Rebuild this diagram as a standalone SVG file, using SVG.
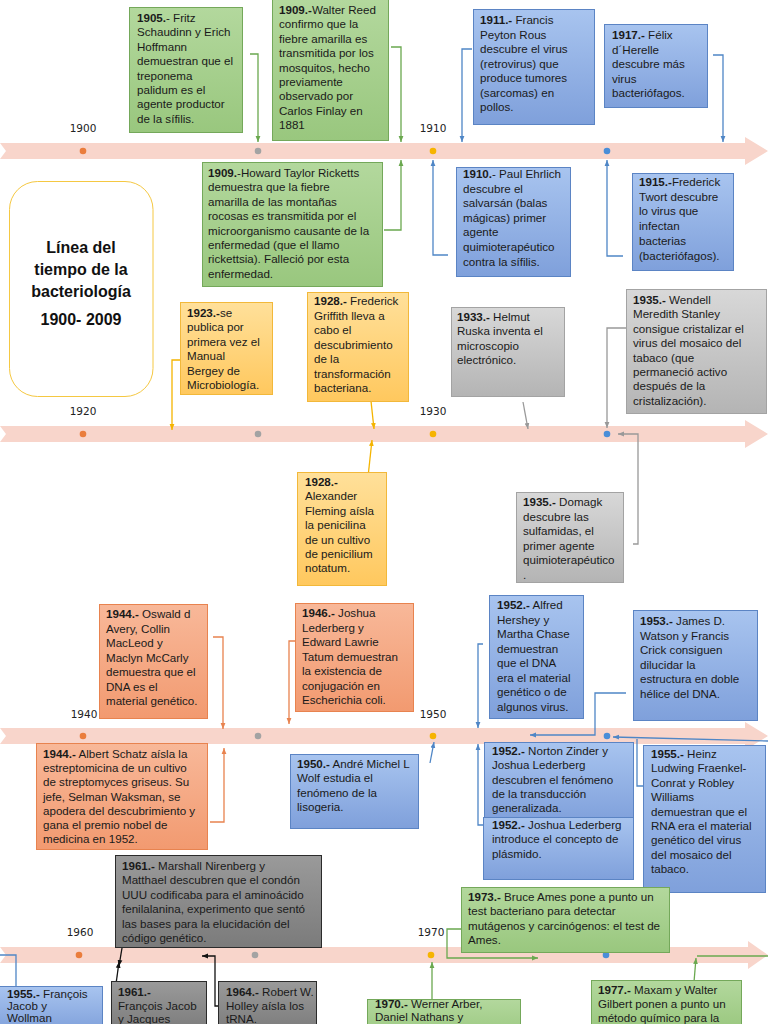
<svg xmlns="http://www.w3.org/2000/svg" width="768" height="1024" viewBox="0 0 768 1024">
<defs>
<style>
.t{font-family:"Liberation Sans",Arial,sans-serif;font-size:11.6px;fill:#1a1a1a}
.b{font-weight:bold}
.yr{font-family:"DejaVu Sans",sans-serif;font-size:10.5px;fill:#222;text-anchor:middle}
.band{fill:#f8d5cb}
.gr{fill:url(#gG);stroke:#74a85a;stroke-width:1}
.bl{fill:url(#gB);stroke:#5b84c4;stroke-width:1}
.ye{fill:url(#gY);stroke:#f2b83a;stroke-width:1}
.or{fill:url(#gO);stroke:#e8834f;stroke-width:1}
.gy{fill:url(#gGy);stroke:#a3a3a3;stroke-width:1}
.dk{fill:url(#gD);stroke:#2b2b2b;stroke-width:1}
.c{fill:none;stroke-width:1.3}
.cg{stroke:#6aa84f}.cb{stroke:#4f86c6}.cy{stroke:#f4b400}.co{stroke:#e8834f}.cgy{stroke:#999}.ck{stroke:#111}
</style>
<linearGradient id="gG" x1="0" y1="0" x2="0" y2="1"><stop offset="0" stop-color="#b3d89d"/><stop offset="1" stop-color="#99c77e"/></linearGradient>
<linearGradient id="gB" x1="0" y1="0" x2="0" y2="1"><stop offset="0" stop-color="#a8c4ef"/><stop offset="1" stop-color="#7fa0db"/></linearGradient>
<linearGradient id="gY" x1="0" y1="0" x2="0" y2="1"><stop offset="0" stop-color="#ffe09a"/><stop offset="1" stop-color="#ffc85e"/></linearGradient>
<linearGradient id="gO" x1="0" y1="0" x2="0" y2="1"><stop offset="0" stop-color="#f8b899"/><stop offset="1" stop-color="#f29a70"/></linearGradient>
<linearGradient id="gGy" x1="0" y1="0" x2="0" y2="1"><stop offset="0" stop-color="#d8d8d8"/><stop offset="1" stop-color="#b4b4b4"/></linearGradient>
<linearGradient id="gD" x1="0" y1="0" x2="0" y2="1"><stop offset="0" stop-color="#9a9a9a"/><stop offset="1" stop-color="#7b7b7b"/></linearGradient>
<marker id="mg" viewBox="0 0 10 10" refX="10" refY="5" markerWidth="6" markerHeight="6" orient="auto" markerUnits="userSpaceOnUse"><path d="M0,1 L10,5 L0,9 z" fill="#6aa84f"/></marker>
<marker id="mb" viewBox="0 0 10 10" refX="10" refY="5" markerWidth="6" markerHeight="6" orient="auto" markerUnits="userSpaceOnUse"><path d="M0,1 L10,5 L0,9 z" fill="#4f86c6"/></marker>
<marker id="my" viewBox="0 0 10 10" refX="10" refY="5" markerWidth="6" markerHeight="6" orient="auto" markerUnits="userSpaceOnUse"><path d="M0,1 L10,5 L0,9 z" fill="#f4b400"/></marker>
<marker id="mo" viewBox="0 0 10 10" refX="10" refY="5" markerWidth="6" markerHeight="6" orient="auto" markerUnits="userSpaceOnUse"><path d="M0,1 L10,5 L0,9 z" fill="#e8834f"/></marker>
<marker id="mgy" viewBox="0 0 10 10" refX="10" refY="5" markerWidth="6" markerHeight="6" orient="auto" markerUnits="userSpaceOnUse"><path d="M0,1 L10,5 L0,9 z" fill="#999"/></marker>
<marker id="mk" viewBox="0 0 10 10" refX="10" refY="5" markerWidth="6" markerHeight="6" orient="auto" markerUnits="userSpaceOnUse"><path d="M0,1 L10,5 L0,9 z" fill="#111"/></marker>
</defs>
<rect width="768" height="1024" fill="#fff"/>

<g id="timeline">
<polygon class="band" points="0,143 745,143 745,137 768,151 745,165 745,159 0,159 6,151"/>
<polygon class="band" points="0,426 745,426 745,420 768,434 745,448 745,442 0,442 6,434"/>
<polygon class="band" points="0,728 745,728 745,722 768,736 745,750 745,744 0,744 6,736"/>
<polygon class="band" points="0,947 748,947 748,941 768,955 748,969 748,963 0,963 6,955"/>
<g>
<circle cx="83" cy="151" r="3.3" fill="#ea7d3c"/><circle cx="258" cy="151" r="3.3" fill="#a3a3a3"/><circle cx="433" cy="151" r="3.3" fill="#f6b400"/><circle cx="607" cy="151" r="3.3" fill="#4a8ed8"/>
<circle cx="83" cy="434" r="3.3" fill="#ea7d3c"/><circle cx="258" cy="434" r="3.3" fill="#a3a3a3"/><circle cx="433" cy="434" r="3.3" fill="#f6b400"/><circle cx="607" cy="434" r="3.3" fill="#4a8ed8"/>
<circle cx="83" cy="736" r="3.3" fill="#ea7d3c"/><circle cx="258" cy="736" r="3.3" fill="#a3a3a3"/><circle cx="433" cy="736" r="3.3" fill="#f6b400"/><circle cx="607" cy="736" r="3.3" fill="#4a8ed8"/>
<circle cx="79" cy="955" r="3.3" fill="#ea7d3c"/><circle cx="255" cy="955" r="3.3" fill="#a3a3a3"/><circle cx="431" cy="955" r="3.3" fill="#f6b400"/><circle cx="606" cy="955" r="3.3" fill="#4a8ed8"/>
</g>
<text class="yr" x="83" y="132">1900</text>
<text class="yr" x="433" y="132">1910</text>
<text class="yr" x="83" y="415">1920</text>
<text class="yr" x="433" y="415">1930</text>
<text class="yr" x="84" y="718">1940</text>
<text class="yr" x="433" y="718">1950</text>
<text class="yr" x="80" y="936">1960</text>
<text class="yr" x="431" y="936">1970</text>
</g>

<g id="title">
<rect x="9.5" y="181.5" width="143.5" height="215" rx="28" fill="#fff" stroke="#f5c842" stroke-width="1"/>
<text font-family="Liberation Sans,Arial,sans-serif" font-size="16" font-weight="bold" fill="#111" text-anchor="middle">
<tspan x="81" y="253">Línea del</tspan><tspan x="81" y="275">tiempo de la</tspan><tspan x="81" y="297">bacteriología</tspan><tspan x="81" y="325">1900- 2009</tspan>
</text>
</g>

<g id="connectors">
<path class="c cg" d="M250,54 H258 V142" marker-end="url(#mg)"/>
<path class="c cg" d="M391,47 H401 V142" marker-end="url(#mg)"/>
<path class="c cg" d="M384,230 H401 V160" marker-end="url(#mg)"/>
<path class="c cb" d="M472,49 H462 V142" marker-end="url(#mb)"/>
<path class="c cb" d="M713,55 H723 V142" marker-end="url(#mb)"/>
<path class="c cb" d="M448,255 H433 V160" marker-end="url(#mb)"/>
<path class="c cb" d="M623,256 H607 V160" marker-end="url(#mb)"/>
<path class="c cy" d="M180,360 H172 V430" marker-end="url(#my)"/>
<path class="c cy" d="M371,401 L374,429" marker-end="url(#my)"/>
<path class="c cy" d="M368,477 L372,440" marker-end="url(#my)"/>
<path class="c cgy" d="M523,402 L528,429" marker-end="url(#mgy)"/>
<path class="c cgy" d="M626,328 H607 V428" marker-end="url(#mgy)"/>
<path class="c cgy" d="M633,544 H638 V434 H618" marker-end="url(#mgy)"/>
<path class="c co" d="M213,637 H223 V729" marker-end="url(#mo)"/>
<path class="c co" d="M295,641 H289 V724" marker-end="url(#mo)"/>
<path class="c co" d="M210,822 H224 V748" marker-end="url(#mo)"/>
<path class="c cb" d="M430,763 L434,742" marker-end="url(#mb)"/>
<path class="c cb" d="M483,644 H478 V728" marker-end="url(#mb)"/>
<path class="c cb" d="M626,693 H595 V735 H530" marker-end="url(#mb)"/>
<path class="c cb" d="M483,825 H478 V744" marker-end="url(#mb)"/>
<path class="c cb" d="M643,786 H637 V739"/>
<path class="c cb" d="M768,741 L613,737" marker-end="url(#mb)"/>
<path class="c cb" d="M16,987 V955 H0"/>
<path class="c ck" d="M122,948 L119,966" marker-end="url(#mk)"/>
<path class="c ck" d="M116,984 L119,962" marker-end="url(#mk)"/>
<path class="c ck" d="M218,1006 H215 V956 H202" marker-end="url(#mk)"/>
<path class="c cg" d="M461,929 H447 V958 H538" marker-end="url(#mg)"/>
<path class="c cg" d="M432,999 V962" marker-end="url(#mg)"/>
<path class="c cg" d="M694,982 L696,958" marker-end="url(#mg)"/>
<path class="c cg" d="M697,956 H768"/>
</g>

<g id="n1905"><rect class="gr" x="129.5" y="7.5" width="113" height="125"/>
<text class="t"><tspan x="137" y="22"><tspan class="b">1905.</tspan>- Fritz</tspan><tspan x="137" dy="14.4">Schaudinn y Erich</tspan><tspan x="137" dy="14.4">Hoffmann</tspan><tspan x="137" dy="14.4">demuestran que el</tspan><tspan x="137" dy="14.4">treponema</tspan><tspan x="137" dy="14.4">palidum es el</tspan><tspan x="137" dy="14.4">agente productor</tspan><tspan x="137" dy="14.4">de la sífilis.</tspan></text></g>

<g id="n1909a"><rect class="gr" x="272.5" y="-0.5" width="116" height="141"/>
<text class="t"><tspan x="279" y="14"><tspan class="b">1909.-</tspan>Walter Reed</tspan><tspan x="279" dy="14.4">confirmo que la</tspan><tspan x="279" dy="14.4">fiebre amarilla es</tspan><tspan x="279" dy="14.4">transmitida por los</tspan><tspan x="279" dy="14.4">mosquitos, hecho</tspan><tspan x="279" dy="14.4">previamente</tspan><tspan x="279" dy="14.4">observado por</tspan><tspan x="279" dy="14.4">Carlos Finlay en</tspan><tspan x="279" dy="14.4">1881</tspan></text></g>

<g id="n1909b"><rect class="gr" x="202.5" y="162.5" width="180" height="124"/>
<text class="t"><tspan x="208" y="177"><tspan class="b">1909.</tspan>-Howard Taylor Ricketts</tspan><tspan x="208" dy="14.4">demuestra que la fiebre</tspan><tspan x="208" dy="14.4">amarilla de las montañas</tspan><tspan x="208" dy="14.4">rocosas es transmitida por el</tspan><tspan x="208" dy="14.4">microorganismo causante de la</tspan><tspan x="208" dy="14.4">enfermedad (que el llamo</tspan><tspan x="208" dy="14.4">rickettsia). Falleció por esta</tspan><tspan x="208" dy="14.4">enfermedad.</tspan></text></g>

<g id="n1911"><rect class="bl" x="473.5" y="9.5" width="121" height="115"/>
<text class="t"><tspan x="480" y="24"><tspan class="b">1911.-</tspan> Francis</tspan><tspan x="480" dy="14.5">Peyton Rous</tspan><tspan x="480" dy="14.5">descubre el virus</tspan><tspan x="480" dy="14.5">(retrovirus) que</tspan><tspan x="480" dy="14.5">produce tumores</tspan><tspan x="480" dy="14.5">(sarcomas) en</tspan><tspan x="480" dy="14.5">pollos.</tspan></text></g>

<g id="n1917"><rect class="bl" x="604.5" y="24.5" width="103" height="83"/>
<text class="t"><tspan x="612" y="39"><tspan class="b">1917.-</tspan> Félix</tspan><tspan x="612" dy="14.5">d´Herelle</tspan><tspan x="612" dy="14.5">descubre más</tspan><tspan x="612" dy="14.5">virus</tspan><tspan x="612" dy="14.5">bacteriófagos.</tspan></text></g>

<g id="n1910"><rect class="bl" x="456.5" y="167.5" width="114" height="109"/>
<text class="t"><tspan x="463" y="178"><tspan class="b">1910.</tspan>- Paul Ehrlich</tspan><tspan x="463" dy="14.6">descubre el</tspan><tspan x="463" dy="14.6">salvarsán (balas</tspan><tspan x="463" dy="14.6">mágicas) primer</tspan><tspan x="463" dy="14.6">agente</tspan><tspan x="463" dy="14.6">quimioterapéutico</tspan><tspan x="463" dy="14.6">contra la sífilis.</tspan></text></g>

<g id="n1915"><rect class="bl" x="632.5" y="173.5" width="101" height="97"/>
<text class="t"><tspan x="639" y="186"><tspan class="b">1915.-</tspan>Frederick</tspan><tspan x="639" dy="14.7">Twort descubre</tspan><tspan x="639" dy="14.7">lo virus que</tspan><tspan x="639" dy="14.7">infectan</tspan><tspan x="639" dy="14.7">bacterias</tspan><tspan x="639" dy="14.7">(bacteriófagos).</tspan></text></g>

<g id="n1923"><rect class="ye" x="180.5" y="302.5" width="92" height="92"/>
<text class="t"><tspan x="187" y="317"><tspan class="b">1923.-</tspan>se</tspan><tspan x="187" dy="14.4">publica por</tspan><tspan x="187" dy="14.4">primera vez el</tspan><tspan x="187" dy="14.4">Manual</tspan><tspan x="187" dy="14.4">Bergey de</tspan><tspan x="187" dy="14.4">Microbiología.</tspan></text></g>

<g id="n1928a"><rect class="ye" x="307.5" y="292.5" width="101" height="109"/>
<text class="t"><tspan x="314" y="305"><tspan class="b">1928.-</tspan> Frederick</tspan><tspan x="314" dy="14.5">Griffith lleva a</tspan><tspan x="314" dy="14.5">cabo el</tspan><tspan x="314" dy="14.5">descubrimiento</tspan><tspan x="314" dy="14.5">de la</tspan><tspan x="314" dy="14.5">transformación</tspan><tspan x="314" dy="14.5">bacteriana.</tspan></text></g>

<g id="n1928b"><rect class="ye" x="297.5" y="472.5" width="89" height="113"/>
<text class="t"><tspan x="305" y="486" class="b">1928.-</tspan><tspan x="305" dy="14.4">Alexander</tspan><tspan x="305" dy="14.4">Fleming aísla</tspan><tspan x="305" dy="14.4">la penicilina</tspan><tspan x="305" dy="14.4">de un cultivo</tspan><tspan x="305" dy="14.4">de penicilium</tspan><tspan x="305" dy="14.4">notatum.</tspan></text></g>

<g id="n1933"><rect class="gy" x="451.5" y="307.5" width="113" height="89"/>
<text class="t"><tspan x="457" y="321"><tspan class="b">1933.-</tspan> Helmut</tspan><tspan x="457" dy="14.4">Ruska inventa el</tspan><tspan x="457" dy="14.4">microscopio</tspan><tspan x="457" dy="14.4">electrónico.</tspan></text></g>

<g id="n1935a"><rect class="gy" x="626.5" y="289.5" width="140" height="124"/>
<text class="t"><tspan x="633" y="304"><tspan class="b">1935.-</tspan> Wendell</tspan><tspan x="633" dy="14.4">Meredith Stanley</tspan><tspan x="633" dy="14.4">consigue cristalizar el</tspan><tspan x="633" dy="14.4">virus del mosaico del</tspan><tspan x="633" dy="14.4">tabaco (que</tspan><tspan x="633" dy="14.4">permaneció activo</tspan><tspan x="633" dy="14.4">después de la</tspan><tspan x="633" dy="14.4">cristalización).</tspan></text></g>

<g id="n1935b"><rect class="gy" x="516.5" y="492.5" width="107" height="90"/>
<text class="t"><tspan x="523" y="506"><tspan class="b">1935.-</tspan> Domagk</tspan><tspan x="523" dy="14.6">descubre las</tspan><tspan x="523" dy="14.6">sulfamidas, el</tspan><tspan x="523" dy="14.6">primer agente</tspan><tspan x="523" dy="14.6">quimioterapéutico</tspan><tspan x="523" dy="14.6">.</tspan></text></g>

<g id="n1944a"><rect class="or" x="99.5" y="604.5" width="108" height="114"/>
<text class="t"><tspan x="106" y="618"><tspan class="b">1944.-</tspan> Oswald d</tspan><tspan x="106" dy="14.5">Avery, Collin</tspan><tspan x="106" dy="14.5">MacLeod y</tspan><tspan x="106" dy="14.5">Maclyn McCarly</tspan><tspan x="106" dy="14.5">demuestra que el</tspan><tspan x="106" dy="14.5">DNA es el</tspan><tspan x="106" dy="14.5">material genético.</tspan></text></g>

<g id="n1946"><rect class="or" x="295.5" y="603.5" width="118" height="108"/>
<text class="t"><tspan x="302" y="617"><tspan class="b">1946.-</tspan> Joshua</tspan><tspan x="302" dy="14.5">Lederberg y</tspan><tspan x="302" dy="14.5">Edward Lawrie</tspan><tspan x="302" dy="14.5">Tatum demuestran</tspan><tspan x="302" dy="14.5">la existencia de</tspan><tspan x="302" dy="14.5">conjugación en</tspan><tspan x="302" dy="14.5">Escherichia coli.</tspan></text></g>

<g id="n1944b"><rect class="or" x="36.5" y="743.5" width="171" height="106"/>
<text class="t"><tspan x="43" y="758"><tspan class="b">1944.-</tspan> Albert Schatz aísla la</tspan><tspan x="43" dy="14.2">estreptomicina de un cultivo</tspan><tspan x="43" dy="14.2">de streptomyces griseus. Su</tspan><tspan x="43" dy="14.2">jefe, Selman Waksman, se</tspan><tspan x="43" dy="14.2">apodera del descubrimiento y</tspan><tspan x="43" dy="14.2">gana el premio nobel de</tspan><tspan x="43" dy="14.2">medicina en 1952.</tspan></text></g>

<g id="n1950"><rect class="bl" x="290.5" y="754.5" width="128" height="74"/>
<text class="t"><tspan x="297" y="768"><tspan class="b">1950.-</tspan> André Michel L</tspan><tspan x="297" dy="14.3">Wolf estudia el</tspan><tspan x="297" dy="14.3">fenómeno de la</tspan><tspan x="297" dy="14.3">lisogeria.</tspan></text></g>

<g id="n1952a"><rect class="bl" x="489.5" y="595.5" width="94" height="123"/>
<text class="t"><tspan x="497" y="609"><tspan class="b">1952.-</tspan> Alfred</tspan><tspan x="497" dy="14.5">Hershey y</tspan><tspan x="497" dy="14.5">Martha Chase</tspan><tspan x="497" dy="14.5">demuestran</tspan><tspan x="497" dy="14.5">que el DNA</tspan><tspan x="497" dy="14.5">era el material</tspan><tspan x="497" dy="14.5">genético o de</tspan><tspan x="497" dy="14.5">algunos virus.</tspan></text></g>

<g id="n1953"><rect class="bl" x="633.5" y="610.5" width="124" height="110"/>
<text class="t"><tspan x="640" y="625"><tspan class="b">1953.-</tspan> James D.</tspan><tspan x="640" dy="14.5">Watson y Francis</tspan><tspan x="640" dy="14.5">Crick consiguen</tspan><tspan x="640" dy="14.5">dilucidar la</tspan><tspan x="640" dy="14.5">estructura en doble</tspan><tspan x="640" dy="14.5">hélice del DNA.</tspan></text></g>

<g id="n1952b"><rect class="bl" x="484.5" y="742.5" width="149" height="80"/>
<text class="t"><tspan x="492" y="755"><tspan class="b">1952.-</tspan> Norton Zinder y</tspan><tspan x="492" dy="14.3">Joshua Lederberg</tspan><tspan x="492" dy="14.3">descubren el fenómeno</tspan><tspan x="492" dy="14.3">de la transducción</tspan><tspan x="492" dy="14.3">generalizada.</tspan></text></g>

<g id="n1952c"><rect class="bl" x="483.5" y="817.5" width="150" height="62"/>
<text class="t"><tspan x="492" y="829"><tspan class="b">1952.-</tspan> Joshua Lederberg</tspan><tspan x="492" dy="14.3">introduce el concepto de</tspan><tspan x="492" dy="14.3">plásmido.</tspan></text></g>

<g id="n1955a"><rect class="bl" x="643.5" y="745.5" width="122" height="147"/>
<text class="t"><tspan x="651" y="758"><tspan class="b">1955.-</tspan> Heinz</tspan><tspan x="651" dy="14.4">Ludwing Fraenkel-</tspan><tspan x="651" dy="14.4">Conrat y Robley</tspan><tspan x="651" dy="14.4">Williams</tspan><tspan x="651" dy="14.4">demuestran que el</tspan><tspan x="651" dy="14.4">RNA era el material</tspan><tspan x="651" dy="14.4">genético del virus</tspan><tspan x="651" dy="14.4">del mosaico del</tspan><tspan x="651" dy="14.4">tabaco.</tspan></text></g>

<g id="n1961a"><rect class="dk" x="115.5" y="855.5" width="206" height="92"/>
<text class="t" fill="#111"><tspan x="122" y="870"><tspan class="b">1961.-</tspan> Marshall Nirenberg y</tspan><tspan x="122" dy="14.4">Matthael descubren que el condón</tspan><tspan x="122" dy="14.4">UUU codificaba para el aminoácido</tspan><tspan x="122" dy="14.4">fenilalanina, experimento que sentó</tspan><tspan x="122" dy="14.4">las bases para la elucidación del</tspan><tspan x="122" dy="14.4">código genético.</tspan></text></g>

<g id="n1961b"><rect class="dk" x="111.5" y="981.5" width="95" height="50"/>
<text class="t"><tspan x="118" y="996" class="b">1961.-</tspan><tspan x="118" dy="13.6">François Jacob</tspan><tspan x="118" dy="13.6">y Jacques</tspan></text></g>

<g id="n1964"><rect class="dk" x="218.5" y="981.5" width="98" height="50"/>
<text class="t"><tspan x="226" y="996"><tspan class="b">1964.-</tspan> Robert W.</tspan><tspan x="226" dy="13.5">Holley aísla los</tspan><tspan x="226" dy="13.5">tRNA.</tspan></text></g>

<g id="n1955b"><rect class="bl" x="-0.5" y="986.5" width="103" height="45"/>
<text class="t"><tspan x="7" y="998"><tspan class="b">1955.-</tspan> François</tspan><tspan x="7" dy="12">Jacob y</tspan><tspan x="7" dy="12">Wollman</tspan></text></g>

<g id="n1970"><rect class="gr" x="367.5" y="999.5" width="153" height="40"/>
<text class="t"><tspan x="375" y="1008"><tspan class="b">1970.-</tspan> Werner Arber,</tspan><tspan x="375" dy="13">Daniel Nathans y</tspan></text></g>

<g id="n1973"><rect class="gr" x="461.5" y="887.5" width="208" height="65"/>
<text class="t"><tspan x="468" y="901"><tspan class="b">1973.-</tspan> Bruce Ames pone a punto un</tspan><tspan x="468" dy="14.3">test bacteriano para detectar</tspan><tspan x="468" dy="14.3">mutágenos y carcinógenos: el test de</tspan><tspan x="468" dy="14.3">Ames.</tspan></text></g>

<g id="n1977"><rect class="gr" x="591.5" y="980.5" width="150" height="50"/>
<text class="t"><tspan x="598" y="994"><tspan class="b">1977.-</tspan> Maxam y Walter</tspan><tspan x="598" dy="13.8">Gilbert ponen a punto un</tspan><tspan x="598" dy="13.8">método químico para la</tspan></text></g>
</svg>
